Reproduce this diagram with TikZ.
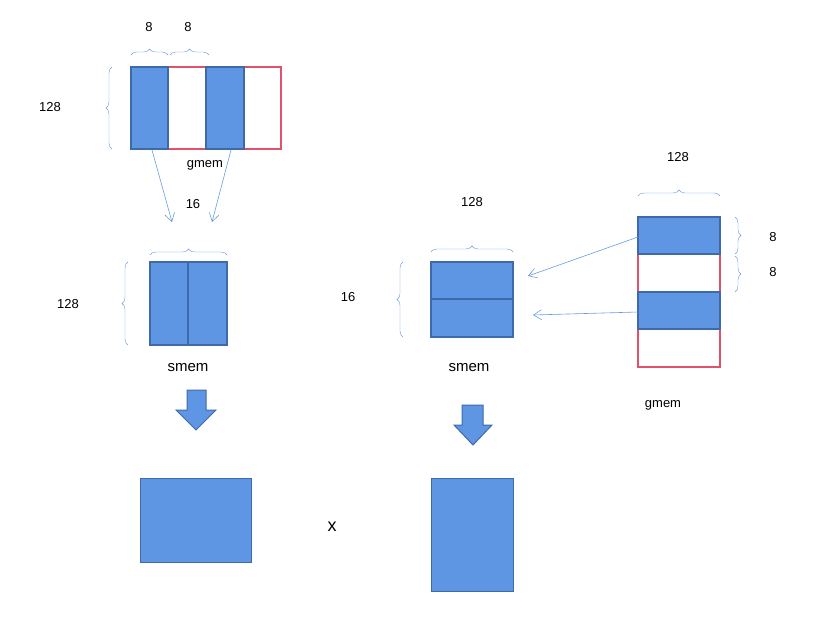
\documentclass[tikz,border=0pt]{standalone}
\usepackage{fontspec}
\setmainfont{Liberation Sans}
\usetikzlibrary{decorations.pathreplacing,arrows.meta}
\definecolor{bfill}{HTML}{5F96E4}
\definecolor{bline}{HTML}{3F6AAA}
\definecolor{rline}{HTML}{E0526A}
\definecolor{brc}{HTML}{6A9BE0}
\begin{document}
\begin{tikzpicture}[x=1pt,y=-1pt,
  bb/.style={fill=bfill,draw=bline,line width=1.2pt},
  rb/.style={fill=white,draw=rline,line width=1.2pt},
  br/.style={draw=brc,decorate,decoration={brace,amplitude=6pt}},
  ar/.style={draw=brc,-{Straight Barb[length=8pt,width=10pt]},line width=0.6pt},
  lb/.style={font=\fontsize{13}{15}\selectfont},
  blk/.style={fill=bfill,draw=bline,line width=1pt}]
\useasboundingbox (0,0) rectangle (815,621);
% top-left gmem
\draw[rb] (168,67) rectangle (206,149);
\draw[rb] (244,67) rectangle (281,149);
\draw[bb] (131,67) rectangle (168,149);
\draw[bb] (206,67) rectangle (244,149);
\coordinate (g1a) at (152,150); \coordinate (g1b) at (231,150);
\draw[br] (131,55) -- (168,55);
\draw[br] (170,55) -- (209,55);
\node[lb] at (149,27) {8};
\node[lb] at (188,27) {8};
\draw[br] (112,149) -- (112,67);
\node[lb] at (50,107) {128};
\node[lb] at (205,165) {gmem};
% left smem
\draw[bb] (150,262) rectangle (227,345);
\draw[bline,line width=1.2pt] (188,262) -- (188,345);
\coordinate (s1a) at (172,222); \coordinate (s1b) at (212,222);
\draw[ar] (g1a) -- (s1a);
\draw[ar] (g1b) -- (s1b);
\draw[br] (150,255) -- (227,255);
\node[lb] at (193,204) {16};
\draw[br] (128,345) -- (128,262);
\node[lb] at (68,304) {128};
\node[lb,font=\fontsize{15}{17}\selectfont] at (188,368) {smem};
\draw[blk] (187,390) -- (206,390) -- (206,410) -- (216,410) -- (196,430) -- (176,410) -- (187,410) -- cycle;
\draw[blk] (140,478) rectangle (251,562);
\node[font=\fontsize{18}{20}\selectfont] at (332,527) {x};
% right smem
\draw[bb] (431,262) rectangle (513,337);
\draw[bline,line width=1.2pt] (431,299) -- (513,299);
\draw[br] (431,252) -- (513,252);
\node[lb] at (472,202) {128};
\draw[br] (403,337) -- (403,262);
\node[lb] at (348,297) {16};
\node[lb,font=\fontsize{15}{17}\selectfont] at (469,368) {smem};
\draw[blk] (462,405) -- (483,405) -- (483,425) -- (492,425) -- (473,445) -- (454,425) -- (462,425) -- cycle;
\draw[blk] (431,478) rectangle (513,591);
% right gmem
\draw[rb] (638,254) rectangle (720,292);
\draw[rb] (638,329) rectangle (720,367);
\draw[bb] (638,217) rectangle (720,254);
\draw[bb] (638,292) rectangle (720,329);
\draw[br] (638,196) -- (720,196);
\node[lb] at (678,157) {128};
\draw[br] (735,217) -- (735,254);
\draw[br] (735,256) -- (735,292);
\node[lb] at (773,237) {8};
\node[lb] at (773,272) {8};
\node[lb] at (663,405) {gmem};
\coordinate (r1) at (638,237); \coordinate (r2) at (638,312);
\coordinate (t1) at (528,276); \coordinate (t2) at (533,315);
\draw[ar] (r1) -- (t1);
\draw[ar] (r2) -- (t2);
\end{tikzpicture}
\end{document}
